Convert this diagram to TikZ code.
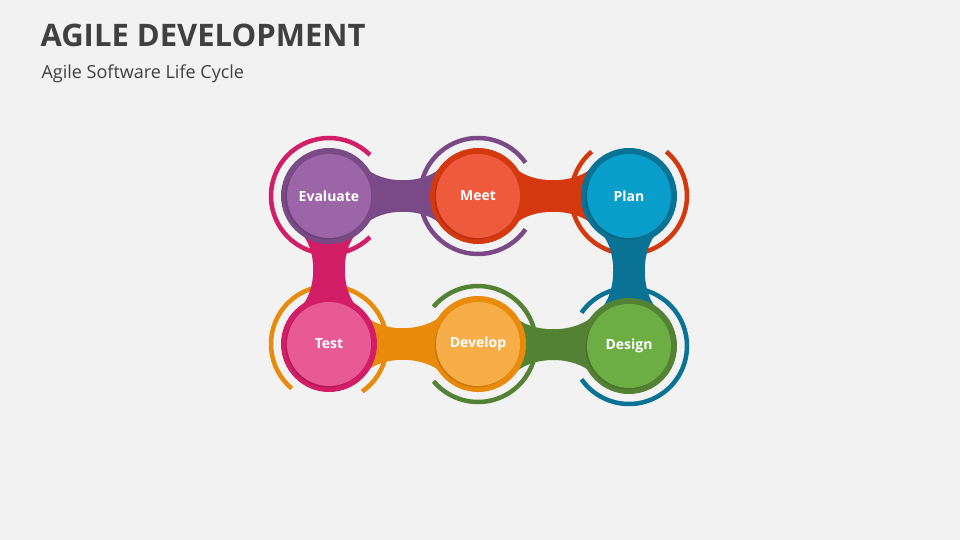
\documentclass[tikz,border=0pt]{standalone}
\usepackage{fontspec}
\setmainfont{Open Sans}
\begin{document}
\begin{tikzpicture}[x=1pt,y=-1pt,
  ring/.style={circle,minimum size=96pt,inner sep=0pt},
  lbl/.style={text=white,font=\fontsize{14}{16}\selectfont\bfseries},
  arcst/.style={line width=4.5pt}]
\definecolor{bg}{HTML}{F2F2F2}
\definecolor{puD}{HTML}{7A4A87}\definecolor{puL}{HTML}{9B65A8}
\definecolor{reD}{HTML}{D4380F}\definecolor{reL}{HTML}{F05A3C}
\definecolor{blD}{HTML}{0A7395}\definecolor{blL}{HTML}{0A9ECB}
\definecolor{grD}{HTML}{548235}\definecolor{grL}{HTML}{6DAE44}
\definecolor{orD}{HTML}{E98A0A}\definecolor{orL}{HTML}{F8AE48}
\definecolor{maD}{HTML}{D21D67}\definecolor{maL}{HTML}{E75A96}
\definecolor{ttl}{HTML}{404040}
\fill[bg] (0,0) rectangle (960,540);
\node[anchor=west,text=ttl,font=\fontsize{31}{34}\selectfont\bfseries] (title) at (37,35) {AGILE DEVELOPMENT};
\node[anchor=west,text=ttl,font=\fontsize{18}{20}\selectfont] (sub) at (38,74) {Agile Software Life Cycle};
% arcs
\draw[arcst,maD] (329,196) ++(45:58) arc[start angle=45,end angle=315,radius=58];
\draw[arcst,puD] (478,196) ++(35:58) arc[start angle=35,end angle=325,radius=58];
\draw[arcst,reD] (629,196) ++(-50:58) arc[start angle=-50,end angle=230,radius=58];
\draw[arcst,blD] (629,346) ++(-145:58) arc[start angle=-145,end angle=145,radius=58];
\draw[arcst,grD] (478,344) ++(-140:58) arc[start angle=-140,end angle=140,radius=58];
\draw[arcst,orD] (329,344) ++(130:58) arc[start angle=130,end angle=415,radius=58];
% connectors (horizontal)
\fill[puD] (364,166) .. controls (380,185) and (425,185) .. (443,166) -- (443,226) .. controls (425,207) and (380,207) .. (364,226) -- cycle;
\fill[reD] (513,166) .. controls (530,185) and (576,185) .. (594,166) -- (594,226) .. controls (576,207) and (530,207) .. (513,226) -- cycle;
\fill[grD] (513,315) .. controls (530,334) and (576,334) .. (594,315) -- (594,375) .. controls (576,355) and (530,355) .. (513,375) -- cycle;
\fill[orD] (364,314) .. controls (380,333) and (425,333) .. (443,314) -- (443,374) .. controls (425,355) and (380,355) .. (364,374) -- cycle;
% connectors (vertical)
\fill[maD] (299,231) .. controls (318,247) and (318,292) .. (299,309) -- (359,309) .. controls (340,292) and (340,247) .. (359,231) -- cycle;
\fill[blD] (599,231) .. controls (618,247) and (618,294) .. (599,311) -- (659,311) .. controls (640,294) and (640,247) .. (659,231) -- cycle;
% circles
\foreach \n/\x/\y/\d/\l/\t in {eva/329/196/puD/puL/Evaluate, mee/478/196/reD/reL/Meet, pla/629/196/blD/blL/Plan, tes/329/344/maD/maL/Test, dev/478/344/orD/orL/Develop, des/629/346/grD/grL/Design}{
  \node[ring,fill=\d] (\n) at (\x,\y) {};
  \node[circle,minimum size=84pt,inner sep=0pt,fill=black,opacity=0.12] (\n s) at (\x-1.5,\y+1.5) {};
  \node[circle,minimum size=84pt,inner sep=0pt,fill=\l,lbl] (\n i) at (\x,\y) {\t};
}
\end{tikzpicture}
\end{document}
